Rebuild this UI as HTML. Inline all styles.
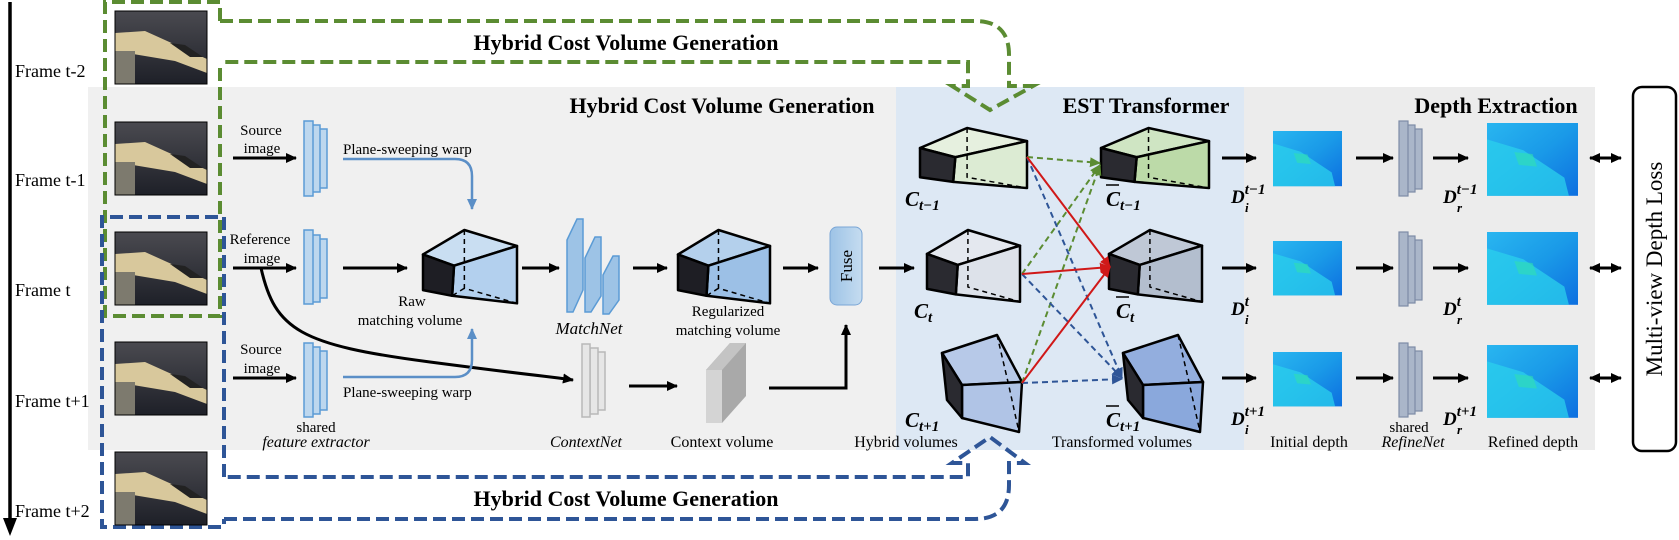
<!DOCTYPE html>
<html><head><meta charset="utf-8"><style>
html,body{margin:0;padding:0;background:#fff;}
svg{display:block;}
text{font-family:"Liberation Serif",serif;fill:#000;}
.lb{font-size:15px;text-anchor:middle;}
.it{font-style:italic;}
.ttl{font-size:22px;font-weight:bold;text-anchor:middle;}
.m{font-weight:bold;font-style:italic;font-size:21px;}
.ms{font-size:15px;}
</style></head><body>
<svg width="1679" height="540" viewBox="0 0 1679 540" xmlns="http://www.w3.org/2000/svg">
<defs>
<marker id="a" markerWidth="12" markerHeight="12" refX="10" refY="6" orient="auto" markerUnits="userSpaceOnUse"><path d="M0,1 L11,6 L0,11 z" fill="#000"/></marker>
<marker id="ad" markerWidth="12" markerHeight="12" refX="10" refY="6" orient="auto-start-reverse" markerUnits="userSpaceOnUse"><path d="M0,1 L11,6 L0,11 z" fill="#000"/></marker>
<marker id="ab" markerWidth="12" markerHeight="12" refX="10" refY="6" orient="auto" markerUnits="userSpaceOnUse"><path d="M0,1 L11,6 L0,11 z" fill="#5b8fc7"/></marker>
<marker id="ar" markerWidth="12" markerHeight="12" refX="10" refY="6" orient="auto" markerUnits="userSpaceOnUse"><path d="M0,1 L11,6 L0,11 z" fill="#d01818"/></marker>
<marker id="ag" markerWidth="12" markerHeight="12" refX="10" refY="6" orient="auto" markerUnits="userSpaceOnUse"><path d="M0,1 L11,6 L0,11 z" fill="#5b8c32"/></marker>
<marker id="abl" markerWidth="12" markerHeight="12" refX="10" refY="6" orient="auto" markerUnits="userSpaceOnUse"><path d="M0,1 L11,6 L0,11 z" fill="#2e5597"/></marker>
<linearGradient id="dep" x1="0" y1="0" x2="1" y2="1"><stop offset="0" stop-color="#29b6f0"/><stop offset="0.5" stop-color="#1a9ae8"/><stop offset="1" stop-color="#0d6fe0"/></linearGradient>
<linearGradient id="fuse" x1="0" y1="0" x2="1" y2="0"><stop offset="0" stop-color="#9dc3e6"/><stop offset="1" stop-color="#c5dcf0"/></linearGradient>
<linearGradient id="ph" x1="0" y1="0" x2="0" y2="1"><stop offset="0" stop-color="#4a4a50"/><stop offset="1" stop-color="#1e2028"/></linearGradient>
<g id="photo">
<rect x="0" y="0" width="92" height="73" fill="url(#ph)"/>
<polygon points="0,22 30,20 92,48 92,62 60,50 0,40" fill="#d8c89c"/>
<polygon points="55,32 70,34 88,46 75,46" fill="#222"/>
<rect x="0" y="40" width="20" height="33" fill="#7d7a6e"/>
<rect x="0" y="0" width="92" height="73" fill="none" stroke="#000" stroke-width="1"/>
</g>
<g id="depth">
<rect x="0" y="0" width="100" height="80" fill="url(#dep)"/>
<polygon points="0,18 40,30 85,60 90,80 0,80" fill="#2bd0ec" opacity="0.75"/>
<polygon points="30,32 50,34 55,48 35,46" fill="#30e0b0" opacity="0.6"/>
</g>
</defs>

<!-- panels -->
<rect x="88" y="87" width="808" height="363" fill="#f0f0f0"/>
<rect x="896" y="87" width="348" height="363" fill="#dde8f4"/>
<rect x="1244" y="87" width="351" height="363" fill="#ececec"/>
<rect x="1633" y="87" width="43" height="364" rx="9" fill="#fff" stroke="#000" stroke-width="2.5"/>
<text transform="translate(1662,269) rotate(-90)" style="font-size:23px;text-anchor:middle">Multi-view Depth Loss</text>

<!-- time arrow -->
<line x1="10" y1="2" x2="10" y2="524" stroke="#000" stroke-width="3.5"/>
<polygon points="3,518 17,518 10,536" fill="#000"/>
<text x="15" y="77" style="font-size:18px">Frame t-2</text>
<text x="15" y="186" style="font-size:18px">Frame t-1</text>
<text x="15" y="296" style="font-size:18px">Frame t</text>
<text x="15" y="407" style="font-size:18px">Frame t+1</text>
<text x="15" y="517" style="font-size:18px">Frame t+2</text>

<!-- dashed green -->
<g fill="none" stroke="#5b8c32" stroke-width="4" stroke-dasharray="13 6">
<path d="M220,21 V2 H105 V316 H220 V62"/>
<path d="M220,21 H975 Q1009,21 1009,55 V86 H1033 L990,110 L952,86 H968 V62 H220"/>
</g>
<!-- dashed blue -->
<g fill="none" stroke="#2e5597" stroke-width="4" stroke-dasharray="13 6">
<path d="M224,477 V217 H102 V527 H224 V519"/>
<path d="M224,519 H975 Q1009,519 1009,485 V463 H1025 L990,437 L952,463 H968 V477 H224"/>
</g>
<text x="626" y="50" class="ttl">Hybrid Cost Volume Generation</text>
<text x="626" y="506" class="ttl">Hybrid Cost Volume Generation</text>
<text x="722" y="113" class="ttl">Hybrid Cost Volume Generation</text>
<text x="1146" y="113" class="ttl">EST Transformer</text>
<text x="1496" y="113" class="ttl">Depth Extraction</text>

<!-- thumbnails -->
<use href="#photo" transform="translate(115,11)"/>
<use href="#photo" transform="translate(115,122)"/>
<use href="#photo" transform="translate(115,232)"/>
<use href="#photo" transform="translate(115,342)"/>
<use href="#photo" transform="translate(115,452)"/>

<!-- left labels -->
<text x="261" y="135" class="lb">Source</text><text x="262" y="153" class="lb">image</text>
<text x="260" y="244" class="lb">Reference</text><text x="262" y="263" class="lb">image</text>
<text x="261" y="354" class="lb">Source</text><text x="262" y="373" class="lb">image</text>
<g stroke="#000" stroke-width="3" marker-end="url(#a)">
<line x1="233" y1="158" x2="296" y2="158"/>
<line x1="233" y1="268" x2="296" y2="268"/>
<line x1="233" y1="378" x2="296" y2="378"/>
<line x1="343" y1="268" x2="407" y2="268"/>
<line x1="522" y1="268" x2="559" y2="268"/>
<line x1="633" y1="268" x2="667" y2="268"/>
<line x1="783" y1="268" x2="818" y2="268"/>
<line x1="879" y1="268" x2="914" y2="268"/>
<line x1="629" y1="386" x2="677" y2="386"/>
</g>
<path d="M769,388 H846 V325" fill="none" stroke="#000" stroke-width="3" marker-end="url(#a)"/>
<path d="M261,268 C275,330 300,345 430,362 S540,375 573,380" fill="none" stroke="#000" stroke-width="3" marker-end="url(#a)"/>

<!-- feature stacks -->
<g fill="#bdd7ee" stroke="#5b9bd5" stroke-width="1.5">
<rect x="318" y="129" width="9" height="59"/><rect x="311" y="125" width="9" height="67"/><rect x="304" y="121" width="9" height="75"/>
<rect x="318" y="239" width="9" height="59"/><rect x="311" y="235" width="9" height="67"/><rect x="304" y="230" width="9" height="74"/>
<rect x="318" y="351" width="9" height="59"/><rect x="311" y="347" width="9" height="67"/><rect x="304" y="343" width="9" height="74"/>
</g>
<text x="316" y="432" class="lb">shared</text>
<text x="316" y="447" class="lb it" style="font-size:16px">feature extractor</text>

<!-- plane sweep -->
<text x="343" y="154" style="font-size:15px">Plane-sweeping warp</text>
<text x="343" y="397" style="font-size:15px">Plane-sweeping warp</text>
<path d="M343,159 H455 Q472,159 472,176 V209" fill="none" stroke="#5b8fc7" stroke-width="2.5" marker-end="url(#ab)"/>
<path d="M343,377 H455 Q472,377 472,360 V329" fill="none" stroke="#5b8fc7" stroke-width="2.5" marker-end="url(#ab)"/>

<!-- raw matching volume -->
<g transform="translate(423,230) scale(0.94,0.94)" stroke="#000" stroke-width="2.5" stroke-linejoin="round">
<polygon points="0,26 44,0 100,17 33,38" fill="#c9def2" vector-effect="non-scaling-stroke"/>
<polygon points="33,38 100,17 100,78 31,70" fill="#b3d0ee" vector-effect="non-scaling-stroke"/>
<polygon points="0,26 33,38 31,70 0,64" fill="#1e1e24" vector-effect="non-scaling-stroke"/>
<path d="M44,0 V62 L100,78 M44,62 L31,70" fill="none" stroke-width="1.5" stroke-dasharray="5 4" vector-effect="non-scaling-stroke"/>
</g>
<text x="412" y="306" class="lb">Raw</text>
<text x="410" y="325" class="lb">matching volume</text>

<!-- MatchNet -->
<g fill="#9dc3e6" stroke="#5b9bd5" stroke-width="1.5">
<polygon points="567,240 577,219 583,219 583,290 573,312 567,312"/>
<polygon points="585,258 595,237 601,237 601,296 591,312 585,312"/>
<polygon points="603,275 613,256 619,256 619,300 609,314 603,314"/>
</g>
<text x="589" y="334" class="lb it" style="font-size:17px">MatchNet</text>

<!-- regularized -->
<g transform="translate(678,230) scale(0.92,0.94)" stroke="#000" stroke-width="2.5" stroke-linejoin="round">
<polygon points="0,26 44,0 100,17 33,38" fill="#b4d0ec" vector-effect="non-scaling-stroke"/>
<polygon points="33,38 100,17 100,78 31,70" fill="#9cc0e6" vector-effect="non-scaling-stroke"/>
<polygon points="0,26 33,38 31,70 0,64" fill="#1e1e24" vector-effect="non-scaling-stroke"/>
<path d="M44,0 V62 L100,78 M44,62 L31,70" fill="none" stroke-width="1.5" stroke-dasharray="5 4" vector-effect="non-scaling-stroke"/>
</g>
<text x="728" y="316" class="lb">Regularized</text>
<text x="728" y="335" class="lb">matching volume</text>

<!-- ContextNet -->
<g fill="#e6e6e6" stroke="#b8b8b8" stroke-width="1.5">
<rect x="597" y="352" width="8" height="58"/><rect x="590" y="348" width="8" height="66"/><rect x="582" y="344" width="8" height="73"/>
</g>
<text x="586" y="447" class="lb it" style="font-size:16px">ContextNet</text>
<polygon points="706,370 730,343 746,343 746,396 722,423 706,423" fill="#a9a9a9"/>
<polygon points="706,370 722,370 722,423 706,423" fill="#d4d4d4"/>
<polygon points="706,370 730,343 746,343 722,370" fill="#c4c4c4"/>
<text x="722" y="447" class="lb" style="font-size:16px">Context volume</text>

<!-- Fuse -->
<rect x="830" y="227" width="32" height="78" rx="7" fill="url(#fuse)" stroke="#7aa6d6" stroke-width="1"/>
<text transform="translate(852,266) rotate(-90)" style="font-size:17px;text-anchor:middle">Fuse</text>

<!-- EST cubes -->
<g stroke="#000" stroke-width="2.5" stroke-linejoin="round">
<g transform="translate(920,128) scale(1.07,0.77)">
<polygon points="0,26 44,0 100,17 33,38" fill="#e6f0df" vector-effect="non-scaling-stroke"/>
<polygon points="33,38 100,17 100,78 31,70" fill="#dcebd3" vector-effect="non-scaling-stroke"/>
<polygon points="0,26 33,38 31,70 0,64" fill="#2a2a30" vector-effect="non-scaling-stroke"/>
<path d="M44,0 V64 L100,78" fill="none" stroke-width="1.5" stroke-dasharray="5 4" vector-effect="non-scaling-stroke"/>
</g>
<g transform="translate(1101,128) scale(1.08,0.77)">
<polygon points="0,26 44,0 100,17 33,38" fill="#cfe5c3" vector-effect="non-scaling-stroke"/>
<polygon points="33,38 100,17 100,78 31,70" fill="#bcdaa8" vector-effect="non-scaling-stroke"/>
<polygon points="0,26 33,38 31,70 0,64" fill="#2a2a30" vector-effect="non-scaling-stroke"/>
<path d="M44,0 V64 L100,78" fill="none" stroke-width="1.5" stroke-dasharray="5 4" vector-effect="non-scaling-stroke"/>
</g>
<g transform="translate(927,230) scale(0.93,0.92)">
<polygon points="0,26 44,0 100,17 33,38" fill="#e4e8ef" vector-effect="non-scaling-stroke"/>
<polygon points="33,38 100,17 100,78 31,70" fill="#dde2ea" vector-effect="non-scaling-stroke"/>
<polygon points="0,26 33,38 31,70 0,64" fill="#2a2a30" vector-effect="non-scaling-stroke"/>
<path d="M44,0 V62 L100,78" fill="none" stroke-width="1.5" stroke-dasharray="5 4" vector-effect="non-scaling-stroke"/>
</g>
<g transform="translate(1109,230) scale(0.93,0.92)">
<polygon points="0,26 44,0 100,17 33,38" fill="#bfc8d6" vector-effect="non-scaling-stroke"/>
<polygon points="33,38 100,17 100,78 31,70" fill="#b3bece" vector-effect="non-scaling-stroke"/>
<polygon points="0,26 33,38 31,70 0,64" fill="#2a2a30" vector-effect="non-scaling-stroke"/>
<path d="M44,0 V62 L100,78" fill="none" stroke-width="1.5" stroke-dasharray="5 4" vector-effect="non-scaling-stroke"/>
</g>
<g>
<polygon points="942,353 997,335 1022,382 962,385" fill="#b7c9e8"/>
<polygon points="962,385 1022,382 1019,432 962,418" fill="#b0c4e6"/>
<polygon points="942,353 962,385 962,418 947,400" fill="#2a2a30"/>
<path d="M997,335 L1008,382 L1019,432" fill="none" stroke-width="1.5" stroke-dasharray="5 4"/>
</g>
<g>
<polygon points="1123,353 1178,335 1203,382 1143,385" fill="#93aede"/>
<polygon points="1143,385 1203,382 1200,432 1143,418" fill="#8aa8dc"/>
<polygon points="1123,353 1143,385 1143,418 1128,400" fill="#2a2a30"/>
<path d="M1178,335 L1189,382 L1200,432" fill="none" stroke-width="1.5" stroke-dasharray="5 4"/>
</g>
</g>

<!-- connections -->
<g stroke-width="2" fill="none">
<g stroke="#5b8c32" stroke-dasharray="6 4" marker-end="url(#ag)">
<line x1="1027" y1="157" x2="1100" y2="163"/>
<line x1="1022" y1="274" x2="1100" y2="165"/>
<line x1="1022" y1="383" x2="1100" y2="165"/>
</g>
<g stroke="#2e5597" stroke-dasharray="6 4" marker-end="url(#abl)">
<line x1="1027" y1="157" x2="1122" y2="378"/>
<line x1="1022" y1="274" x2="1122" y2="378"/>
<line x1="1022" y1="383" x2="1122" y2="379"/>
</g>
<g stroke="#d01818" marker-end="url(#ar)">
<line x1="1027" y1="157" x2="1110" y2="267"/>
<line x1="1022" y1="274" x2="1110" y2="267"/>
<line x1="1022" y1="383" x2="1110" y2="267"/>
</g>
</g>

<!-- C labels -->
<text x="905" y="206" class="m">C<tspan class="ms" dy="4">t−1</tspan></text>
<text x="1106" y="206" class="m">C<tspan class="ms" dy="4">t−1</tspan></text>
<line x1="1106" y1="185" x2="1119" y2="185" stroke="#000" stroke-width="1.5"/>
<text x="914" y="318" class="m">C<tspan class="ms" dy="4">t</tspan></text>
<text x="1116" y="318" class="m">C<tspan class="ms" dy="4">t</tspan></text>
<line x1="1116" y1="297" x2="1129" y2="297" stroke="#000" stroke-width="1.5"/>
<text x="905" y="427" class="m">C<tspan class="ms" dy="4">t+1</tspan></text>
<text x="1106" y="427" class="m">C<tspan class="ms" dy="4">t+1</tspan></text>
<line x1="1106" y1="406" x2="1119" y2="406" stroke="#000" stroke-width="1.5"/>
<text x="906" y="447" class="lb" style="font-size:16px">Hybrid volumes</text>
<text x="1122" y="447" class="lb" style="font-size:16px">Transformed volumes</text>

<!-- depth extraction -->
<g stroke="#000" stroke-width="3" marker-end="url(#a)">
<line x1="1222" y1="158" x2="1256" y2="158"/><line x1="1356" y1="158" x2="1393" y2="158"/><line x1="1433" y1="158" x2="1468" y2="158"/>
<line x1="1222" y1="268" x2="1256" y2="268"/><line x1="1356" y1="268" x2="1393" y2="268"/><line x1="1433" y1="268" x2="1468" y2="268"/>
<line x1="1222" y1="378" x2="1256" y2="378"/><line x1="1356" y1="378" x2="1393" y2="378"/><line x1="1433" y1="378" x2="1468" y2="378"/>
</g>
<g stroke="#000" stroke-width="3" marker-end="url(#ad)" marker-start="url(#ad)">
<line x1="1590" y1="158" x2="1621" y2="158"/>
<line x1="1590" y1="268" x2="1621" y2="268"/>
<line x1="1590" y1="378" x2="1621" y2="378"/>
</g>
<use href="#depth" transform="translate(1273,131) scale(0.69,0.69)"/>
<use href="#depth" transform="translate(1273,241) scale(0.69,0.68)"/>
<use href="#depth" transform="translate(1273,352) scale(0.69,0.68)"/>
<use href="#depth" transform="translate(1487,123) scale(0.91,0.91)"/>
<use href="#depth" transform="translate(1487,232) scale(0.91,0.91)"/>
<use href="#depth" transform="translate(1487,345) scale(0.91,0.91)"/>
<g fill="#aab6c9" stroke="#7d8ca6" stroke-width="1.2">
<rect x="1413" y="129" width="9" height="60"/><rect x="1406" y="125" width="9" height="67"/><rect x="1399" y="121" width="9" height="75"/>
<rect x="1413" y="240" width="9" height="60"/><rect x="1406" y="236" width="9" height="67"/><rect x="1399" y="232" width="9" height="74"/>
<rect x="1413" y="351" width="9" height="60"/><rect x="1406" y="347" width="9" height="67"/><rect x="1399" y="343" width="9" height="74"/>
</g>
<text x="1231" y="203" class="m" style="font-size:19px">D<tspan class="ms" dy="-9">t−1</tspan></text><text x="1245" y="212" class="m ms" style="font-size:13px">i</text>
<text x="1443" y="203" class="m" style="font-size:19px">D<tspan class="ms" dy="-9">t−1</tspan></text><text x="1457" y="212" class="m ms" style="font-size:13px">r</text>
<text x="1231" y="315" class="m" style="font-size:19px">D<tspan class="ms" dy="-9">t</tspan></text><text x="1245" y="324" class="m ms" style="font-size:13px">i</text>
<text x="1443" y="315" class="m" style="font-size:19px">D<tspan class="ms" dy="-9">t</tspan></text><text x="1457" y="324" class="m ms" style="font-size:13px">r</text>
<text x="1231" y="425" class="m" style="font-size:19px">D<tspan class="ms" dy="-9">t+1</tspan></text><text x="1245" y="434" class="m ms" style="font-size:13px">i</text>
<text x="1443" y="425" class="m" style="font-size:19px">D<tspan class="ms" dy="-9">t+1</tspan></text><text x="1457" y="434" class="m ms" style="font-size:13px">r</text>
<text x="1309" y="447" class="lb" style="font-size:16px">Initial depth</text>
<text x="1409" y="432" class="lb">shared</text>
<text x="1413" y="447" class="lb it" style="font-size:16px">RefineNet</text>
<text x="1533" y="447" class="lb" style="font-size:16px">Refined depth</text>
</svg>
</body></html>
